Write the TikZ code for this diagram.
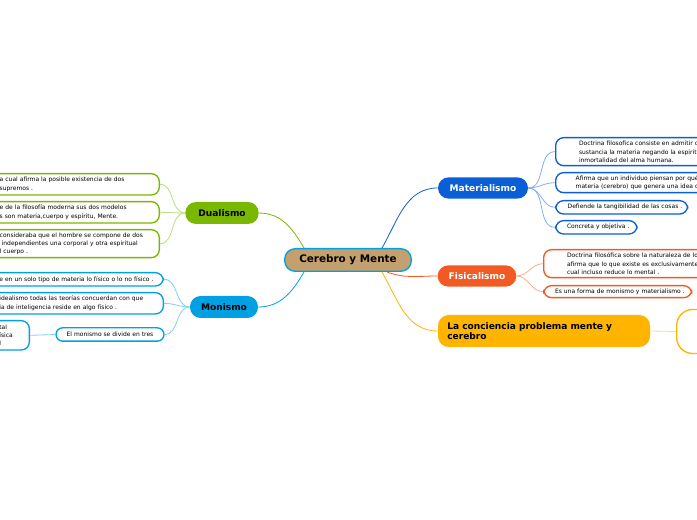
\documentclass[tikz,border=0pt]{standalone}
\usepackage{fontspec}
\setmainfont{DejaVu Sans}
\begin{document}
\begin{tikzpicture}[x=0.75pt,y=-0.75pt,
  every node/.style={font=\fontsize{4.5}{6.2}\selectfont, inner sep=0pt},
  topic/.style={rounded corners=8pt, font=\fontsize{6.8}{8}\selectfont\bfseries, text=white, align=center},
  child/.style={draw, fill=white, line width=1pt, rounded corners=6pt, align=left, anchor=north west, inner xsep=0pt},
  lchild/.style={child, anchor=north east, text width=140pt},
  lnk/.style={line width=0.6pt}]
\useasboundingbox (0,0) rectangle (697,520);
\clip (0,0) rectangle (697,520);
\definecolor{cg}{HTML}{7AB800}\definecolor{cb}{HTML}{00A0E3}\definecolor{cmat}{HTML}{0A5FD6}
\definecolor{co}{HTML}{F15A22}\definecolor{cy}{HTML}{FFB400}\definecolor{ct}{HTML}{C4A06E}
% central
\node[draw=cb, fill=ct, line width=1pt, rounded corners=8pt, minimum width=95pt, minimum height=17pt, font=\fontsize{7.8}{9}\selectfont\bfseries] (c) at (348,260) {Cerebro y Mente};
% main topics
\node[topic, fill=cg, minimum width=55pt, minimum height=16.5pt, text=black] (d) at (222,213) {Dualismo};
\node[topic, fill=cb, minimum width=51pt, minimum height=16.5pt, text=black] (m) at (224,307) {Monismo};
\node[topic, fill=cmat, minimum width=67.5pt, minimum height=16pt] (ma) at (483,188) {Materialismo};
\node[topic, fill=co, minimum width=59pt, minimum height=16pt] (f) at (477,276) {Fisicalismo};
\node[topic, fill=cy, minimum width=159pt, minimum height=24pt, text=black, align=left, text width=145pt] (cc) at (544,331) {La conciencia problema mente y\\cerebro};
\draw[cg,lnk] (c.north west)++(20,0) to[out=120,in=0] (d.east);
\draw[cb,lnk] (c.south west)++(20,0) to[out=240,in=0] (m.east);
\draw[cmat,lnk] (c.north east)++(-30,0) to[out=60,in=180] (ma.west);
\draw[co,lnk] (c.south east)++(-25,0) to[out=-20,in=180] (f.west);
\draw[cy,lnk] (c.south east)++(-30,0) to[out=-60,in=180] (cc.west);
% Dualismo children
\node[lchild, draw=cg, minimum height=16pt] (d1) at (160,173) {\hspace*{20.3pt}a cual afirma la posible existencia de dos\\\hspace*{20.3pt}supremos .};
\node[lchild, draw=cg, minimum height=16pt] (d2) at (160,201) {\hspace*{20.3pt}e de la filosofía moderna sus dos modelos\\\hspace*{20.3pt}s son materia,cuerpo y espíritu, Mente.};
\node[lchild, draw=cg, minimum height=21pt] (d3) at (160,229) {\hspace*{20.3pt}consideraba que el hombre se compone de dos\\\hspace*{20.3pt} independientes una corporal y otra espiritual\\\hspace*{20.3pt}l cuerpo .};
\foreach \n in {d1,d2,d3}{\draw[cg!50,lnk] (d.west) to[out=180,in=0] (\n.east);}
% Monismo children
\node[lchild, draw=cb, minimum height=10pt] (m1) at (164,272) {\hspace*{17pt}e en un solo tipo de materia lo físico o lo no físico .};
\node[lchild, draw=cb, minimum height=16pt] (m2) at (164,292) {\hspace*{17pt}idealismo todas las teorías concuerdan con que\\\hspace*{17pt}ia de inteligencia reside en algo físico .};
\node[draw=cb, fill=white, line width=1pt, rounded corners=5pt, minimum width=81pt, minimum height=10pt] (m3) at (110,334.5) {El monismo se divide en tres};
\node[child, anchor=north east, text width=40pt, draw=cb, minimum height=22pt] (m4) at (30,320) {\hspace*{17.5pt}tal\\\hspace*{17.5pt}ísica\\\hspace*{17.5pt}l};
\foreach \n in {m1,m2,m3}{\draw[cb!50,lnk] (m.west) to[out=180,in=0] (\n.east);}
\draw[cb!50,lnk] (m3.west) -- (m4.east);
% Materialismo children
\node[child, draw=cmat, minimum width=160pt, minimum height=21pt, text width=150pt] (a1) at (555,137) {\hspace*{12.5pt}Doctrina filosofica consiste en admitir como única\\\hspace*{12.5pt}sustancia la materia negando la espiritualidad e\\\hspace*{12.5pt}inmortalidad del alma humana.};
\node[child, draw=cmat, minimum width=160pt, minimum height=15pt, text width=150pt] (a2) at (555,172) {\hspace*{10pt}Afirma que un individuo piensan por qué tiene\\\hspace*{10pt}materia (cerebro) que genera una idea o pensamiento.};
\node[child, draw=cmat, minimum width=99pt, minimum height=10pt, text width=95pt] (a3) at (555,200) {\hspace*{7pt}Defiende la tangibilidad de las cosas .};
\node[child, draw=cmat, minimum width=61pt, minimum height=10pt, text width=58pt] (a4) at (555,220) {\hspace*{7pt}Concreta y objetiva .};
\foreach \n in {a1,a2,a3,a4}{\draw[cmat!50,lnk] (ma.east) to[out=0,in=180] (\n.west);}
% Fisicalismo children
\node[child, draw=co, minimum width=170pt, minimum height=21pt, text width=160pt] (f1) at (543,249) {\hspace*{12.5pt}Doctrina filosófica sobre la naturaleza de lo real, que\\\hspace*{12.5pt}afirma que lo que existe es exclusivamente físico, por lo\\\hspace*{12.5pt}cual incluso reduce lo mental .};
\node[child, draw=co, minimum width=111pt, minimum height=9pt, text width=108pt] (f2) at (543,285) {\hspace*{7pt}Es una forma de monismo y materialismo .};
\foreach \n in {f1,f2}{\draw[co!50,lnk] (f.east) to[out=0,in=180] (\n.west);}
% conciencia child
\node[draw=cy, fill=white, line width=1pt, rounded corners=12pt, minimum width=80pt, minimum height=33pt, anchor=west] (y1) at (676,331.5) {};
\draw[cy!50,lnk] (cc.east) -- (y1.west);
\end{tikzpicture}
\end{document}
